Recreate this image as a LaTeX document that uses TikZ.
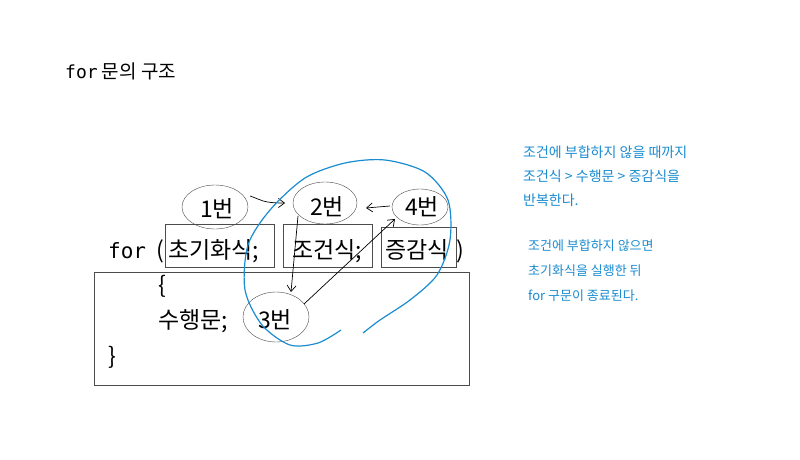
\documentclass[tikz,border=0pt]{standalone}
\usepackage{fontspec}
\usetikzlibrary{arrows.meta}
\setmainfont{Noto Sans CJK KR}
\newfontfamily\monof{DejaVu Sans Mono}
\definecolor{bluec}{HTML}{1A8CD0}
\begin{document}
\begin{tikzpicture}[x=1pt,y=-1pt,
  bx/.style={draw=black!70,line width=0.6pt},
  arr/.style={-{Straight Barb[length=6pt,width=9pt]},line width=0.7pt},
  big/.style={font=\fontsize{23}{23}\selectfont,anchor=base west,inner sep=0pt},
  note/.style={font=\fontsize{14}{14}\selectfont,text=bluec,anchor=base west,inner sep=0pt}]
\useasboundingbox[fill=white] (0,0) rectangle (800,460);
\node[anchor=base west,inner sep=0pt,font=\fontsize{19}{19}\selectfont] (title) at (65,78) {{\monof\fontsize{18}{18}\selectfont for} 문의 구조};
% boxes
\draw[bx] (165,224) rectangle (274,267);
\draw[bx] (283,224) rectangle (372,267);
\draw[bx] (381,227) rectangle (456,267);
\draw[bx] (94,272) rectangle (469,385);
% code text
\node[big] (forw) at (108,258) {\monof\fontsize{21}{21}\selectfont for};
\node[big] (lp) at (156,258) {(};
\node[big] (init) at (168,258) {초기화식;};
\node[big] (cond) at (292,258) {조건식;};
\node[big] (inc) at (385,258) {증감식};
\node[big] (rp) at (456,258) {)};
\node[big] (ob) at (158,293) {\{};
\node[big] (body) at (158,328) {수행문;};
\node[big] (cb) at (108,364) {\}};
% ovals
\draw[black!70] (215,207) ellipse (33 and 22);
\draw[black!70] (325,203) ellipse (32 and 21);
\draw[black!70] (420,207) ellipse (28 and 18);
\draw[black!70] (276,317) ellipse (33 and 25);
\node[big,anchor=center] (n1) at (217,209) {1번};
\node[big,anchor=center] (n2) at (327,207) {2번};
\node[big,anchor=center] (n4) at (422,207) {4번};
\node[big,anchor=center] (n3) at (275,320) {3번};
% arrows
\coordinate (a1s) at (250,196);
\coordinate (a1e) at (285,203);
\draw[arr] (a1s) .. controls (262,200) and (262,203) .. (a1e);
\coordinate (a4s) at (390,206);
\coordinate (a4e) at (366,208);
\draw[arr] (a4s) -- (a4e);
\coordinate (a2s) at (298,216);
\coordinate (a2e) at (291,292);
\draw[arr] (a2s) -- (a2e);
\coordinate (a3s) at (304,304);
\coordinate (a3e) at (395,219);
\draw[arr] (a3s) -- (a3e);
% blue loop
\draw[bluec,line width=1.2pt,smooth] plot coordinates {(341,330) (318,343) (290,345) (262,325) (245,290) (248,245) (270,210) (305,178) (345,163) (385,160) (425,172) (448,200) (450,240) (437,275) (410,300) (380,320) (363,333)};
% notes
\node[note] (t1) at (523,157) {조건에 부합하지 않을 때까지};
\node[note] (t2) at (523,181) {조건식 > 수행문 > 증감식을};
\node[note] (t3) at (523,205) {반복한다.};
\node[note,font=\fontsize{13}{13}\selectfont] (t4) at (528,250) {조건에 부합하지 않으면};
\node[note,font=\fontsize{13}{13}\selectfont] (t5) at (528,275) {초기화식을 실행한 뒤};
\node[note,font=\fontsize{13}{13}\selectfont] (t6) at (528,300) {for 구문이 종료된다.};
\end{tikzpicture}
\end{document}
